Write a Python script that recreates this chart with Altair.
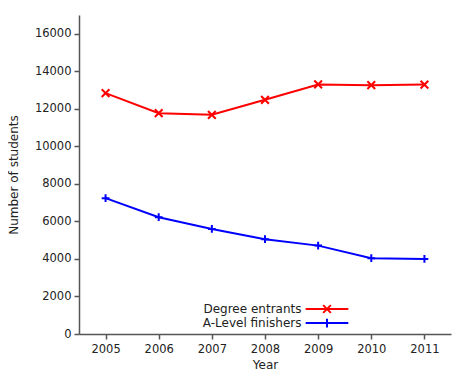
import altair as alt
import pandas as pd

years = [2005, 2006, 2007, 2008, 2009, 2010, 2011]
degree_entrants = [12840, 11770, 11680, 12480, 13300, 13260, 13290]
alevel_finishers = [7240, 6225, 5600, 5050, 4710, 4040, 4000]
series_names = ["Degree entrants", "A-Level finishers"]
y_ticks = [0, 2000, 4000, 6000, 8000, 10000, 12000, 14000, 16000]

rows = []
for i, y in enumerate(years):
    rows.append({"Year": y, "Series": series_names[0], "Marker": "x", "Students": degree_entrants[i]})
    rows.append({"Year": y, "Series": series_names[1], "Marker": "plus", "Students": alevel_finishers[i]})
df = pd.DataFrame(rows)

FONT = "DejaVu Sans"
X_SHAPE = "M-1,-1L1,1M-1,1L1,-1"
PLUS_SHAPE = "M-1,0L1,0M0,-1L0,1"
LEG_X = "M-6.1,0L6.1,0M-1.1,-1.1L1.1,1.1M-1.1,1.1L1.1,-1.1"
LEG_PLUS = "M-6.1,0L6.1,0M0,-1.25L0,1.25"

color_scale = alt.Scale(domain=series_names, range=["#ff0000", "#0000ff"])

x_axis = alt.Axis(values=years, format="d", title="Year", grid=False, labelOverlap=False,
                  tickSize=5, labelPadding=4, titleY=34, titleBaseline="alphabetic",
                  labelFont=FONT, titleFont=FONT, labelFontSize=11.5, titleFontSize=12)
y_axis = alt.Axis(values=y_ticks, format="d", title="Number of students", grid=False,
                  labelOverlap=False, tickSize=5, labelPadding=3, titlePadding=14,
                  labelFont=FONT, titleFont=FONT, labelFontSize=11.5, titleFontSize=12)
x_scale = alt.Scale(domain=[2004.5, 2011.5], nice=False, zero=False)
y_scale = alt.Scale(domain=[0, 17000], nice=False)

legend = alt.Legend(
    title=None, orient="none", legendX=242, legendY=288,
    symbolSize=49, symbolStrokeWidth=2, labelAlign="right",
    labelOffset={"expr": "-31.5"},
    symbolType={"expr": "datum.value === 'Degree entrants' ? '" + LEG_X + "' : '" + LEG_PLUS + "'"},
    symbolFillColor="transparent", symbolOpacity=1,
    rowPadding={"expr": "-6"}, labelFont=FONT, labelFontSize=12,
)

base = alt.Chart(df)
lines = base.mark_line(strokeWidth=2).encode(
    x=alt.X("Year:Q", scale=x_scale, axis=x_axis),
    y=alt.Y("Students:Q", scale=y_scale, axis=y_axis),
    color=alt.Color("Series:N", scale=color_scale, sort=series_names, legend=legend),
    detail="Series:N",
)
points = base.mark_point(filled=False, strokeWidth=2, size=60, opacity=1).encode(
    x=alt.X("Year:Q", scale=x_scale, axis=x_axis),
    y=alt.Y("Students:Q", scale=y_scale, axis=y_axis),
    color=alt.Color("Series:N", scale=color_scale, sort=series_names, legend=legend),
    shape=alt.Shape("Marker:N", scale=alt.Scale(domain=["x", "plus"], range=[X_SHAPE, PLUS_SHAPE]),
                    legend=None),
)

chart = alt.layer(lines, points).properties(
    width=372, height=319,
    autosize=alt.AutoSizeParams(type="none"),
    padding={"left": 71, "top": 7, "right": 15, "bottom": 37},
).configure_view(stroke=None).configure_axis(
    labelColor="#222", titleColor="#222", titleFontWeight="normal",
    domainColor="#555", tickColor="#555", domainWidth=1.5, tickWidth=1.5,
).configure_legend(
    labelColor="#222",
)

chart.save("out.html", embed_options={"renderer": "svg", "actions": False})
